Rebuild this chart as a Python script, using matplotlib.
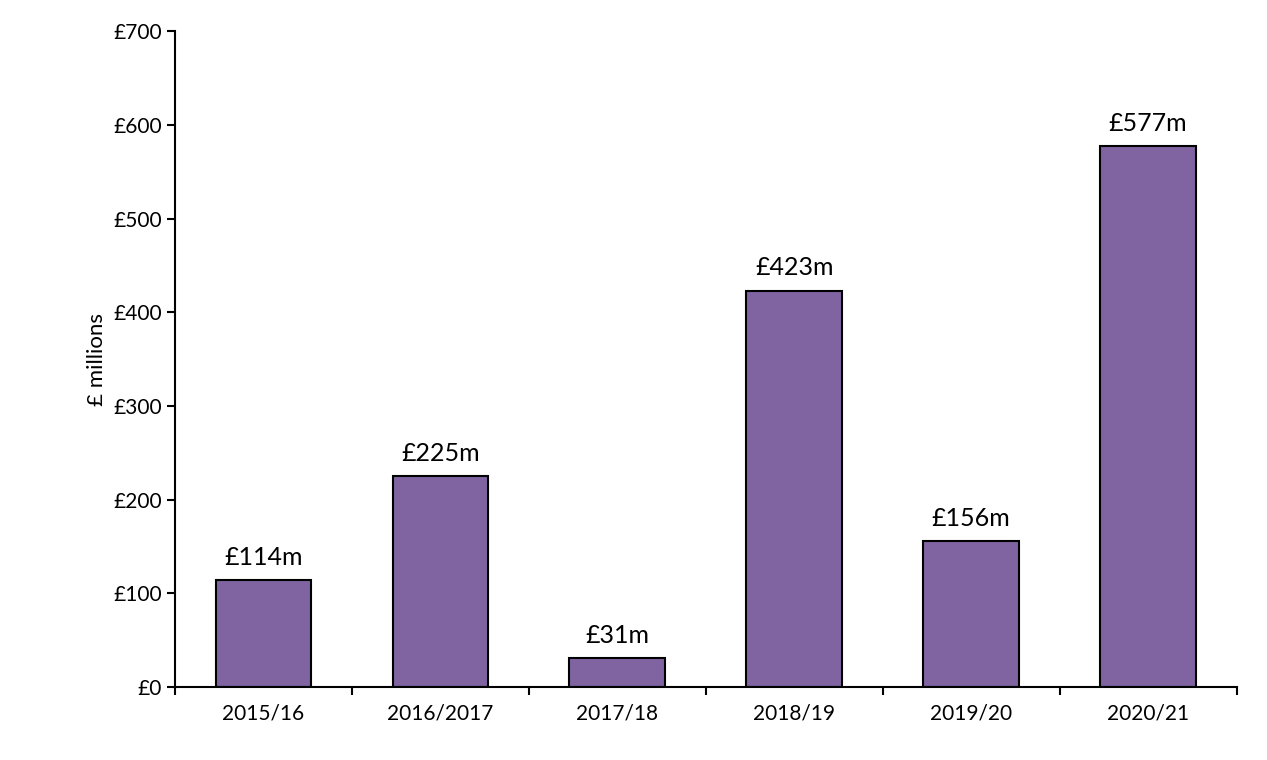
import matplotlib
matplotlib.use("Agg")
import matplotlib.pyplot as plt
import numpy as np

categories = ["2015/16", "2016/2017", "2017/18", "2018/19", "2019/20", "2020/21"]
values = [114, 225, 31, 423, 156, 577]
labels = ["£114m", "£225m", "£31m", "£423m", "£156m", "£577m"]
yticks = [0, 100, 200, 300, 400, 500, 600, 700]

plt.rcParams['font.family'] = ['Lato', 'DejaVu Sans']
fig = plt.figure(figsize=(12.67, 7.6), dpi=100)
ax = fig.add_axes([0.138, 0.096, 0.838, 0.863])
x = np.arange(len(categories))
ax.bar(x, values, width=0.54, color="#8064A2", edgecolor="black", linewidth=1.5)
for xi, v, l in zip(x, values, labels):
    ax.text(xi, v + 12, l, ha="center", va="bottom", fontsize=18)
ax.set_xlim(-0.5, len(categories) - 0.5)
ax.set_ylim(0, 700)
ax.set_yticks(yticks)
ax.set_yticklabels([f"£{t}" for t in yticks], fontsize=15)
ax.set_xticks(x)
ax.set_xticklabels(categories, fontsize=15)
ax.set_xticks(np.arange(-0.5, len(categories), 1), minor=True)
ax.tick_params(axis="x", which="major", length=0, pad=12)
ax.tick_params(axis="x", which="minor", length=6, width=1.5)
ax.tick_params(axis="y", length=6, width=1.5)
ax.set_ylabel("£ millions", fontsize=16)
for s in ["top", "right"]:
    ax.spines[s].set_visible(False)
for s in ["left", "bottom"]:
    ax.spines[s].set_linewidth(1.5)
fig.savefig("out.png", dpi=100)
